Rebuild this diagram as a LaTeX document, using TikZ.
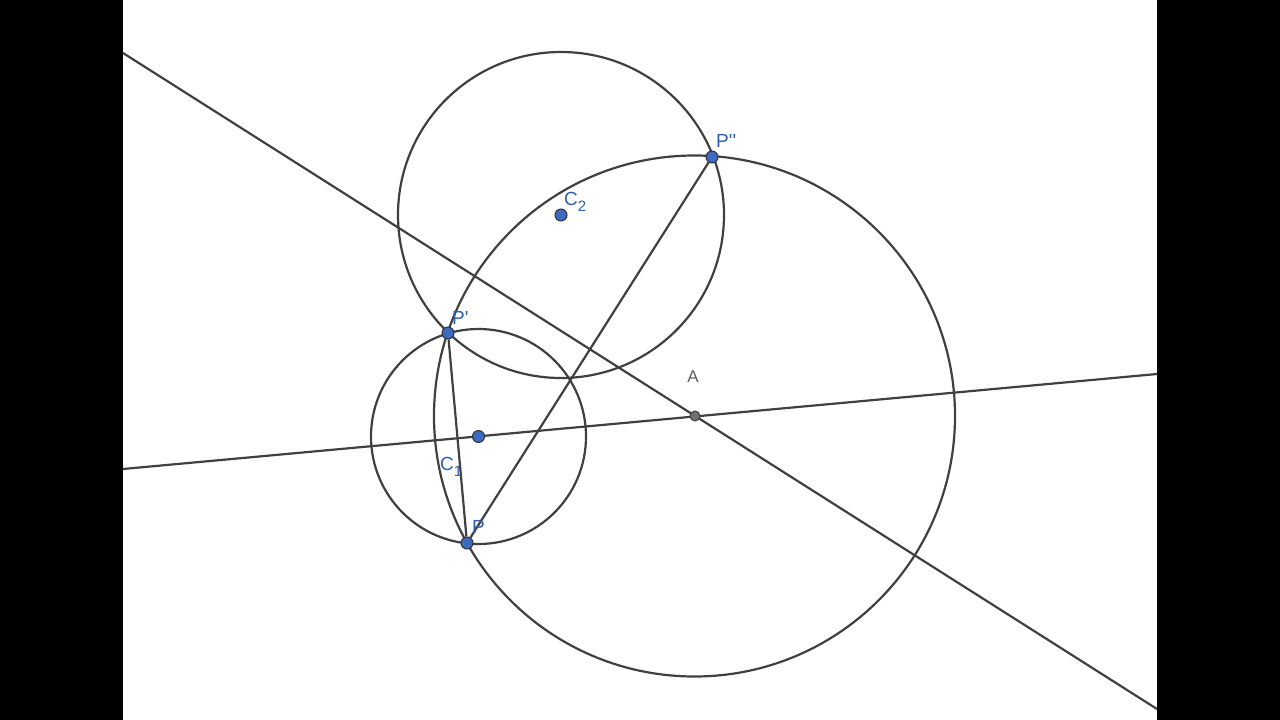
\documentclass[tikz,border=0pt]{standalone}
\usepackage{fontspec}
\setmainfont{Liberation Sans}
\definecolor{ink}{HTML}{404040}
\definecolor{ptblue}{HTML}{3D6BC0}
\definecolor{lblblue}{HTML}{2F5FA8}
\newcommand{\prm}{\textquotesingle}
\begin{document}
\begin{tikzpicture}[x=1pt,y=-1pt,
  geo/.style={draw=ink,line width=2.2pt},
  pt/.style={circle,fill=ptblue,draw=ink!80!black,line width=1pt,inner sep=0pt,minimum size=12pt},
  apt/.style={circle,fill=ink!75,draw=ink,line width=1pt,inner sep=0pt,minimum size=10pt},
  lbl/.style={text=lblblue,font=\fontsize{19}{19}\selectfont,inner sep=0pt},
  albl/.style={text=ink!85,font=\fontsize{17}{17}\selectfont,inner sep=0pt}]
\useasboundingbox (0,0) rectangle (1280,720);
\fill[black] (0,0) rectangle (123,720);
\fill[black] (1157,0) rectangle (1280,720);
% coordinates
\coordinate (L1a) at (123,53);
\coordinate (L1b) at (1157,709);
\coordinate (L2a) at (123,469);
\coordinate (L2b) at (1157,374);
% circles
\draw[geo] (561,215) circle (163);
\draw[geo] (478.5,436.5) circle (107.5);
\draw[geo] (694.5,416) circle (260.5);
% lines
\draw[geo] (L1a) -- (L1b);
\draw[geo] (L2a) -- (L2b);
% points
\node[pt] (Pp) at (448,333) {};
\node[pt] (P) at (467,543) {};
\node[pt] (Ppp) at (712,157) {};
\draw[geo] (Pp) -- (P);
\draw[geo] (P) -- (Ppp);
\node[pt] (C2) at (561,215) {};
\node[pt] (C1) at (478.5,436.5) {};
\node[apt] (A) at (695,416) {};
% labels
\node[lbl,anchor=base west] at (452,324) {P\prm};
\node[lbl,anchor=base west] at (472,533) {P};
\node[lbl,anchor=base west] at (716,147) {P\prm\prm};
\node[lbl,anchor=base west] at (564,205) {C\raisebox{-0.35em}{\fontsize{15}{15}\selectfont 2}};
\node[lbl,anchor=base west] at (440,470) {C\raisebox{-0.35em}{\fontsize{15}{15}\selectfont 1}};
\node[albl,anchor=base] at (693,382) {A};
\end{tikzpicture}
\end{document}
